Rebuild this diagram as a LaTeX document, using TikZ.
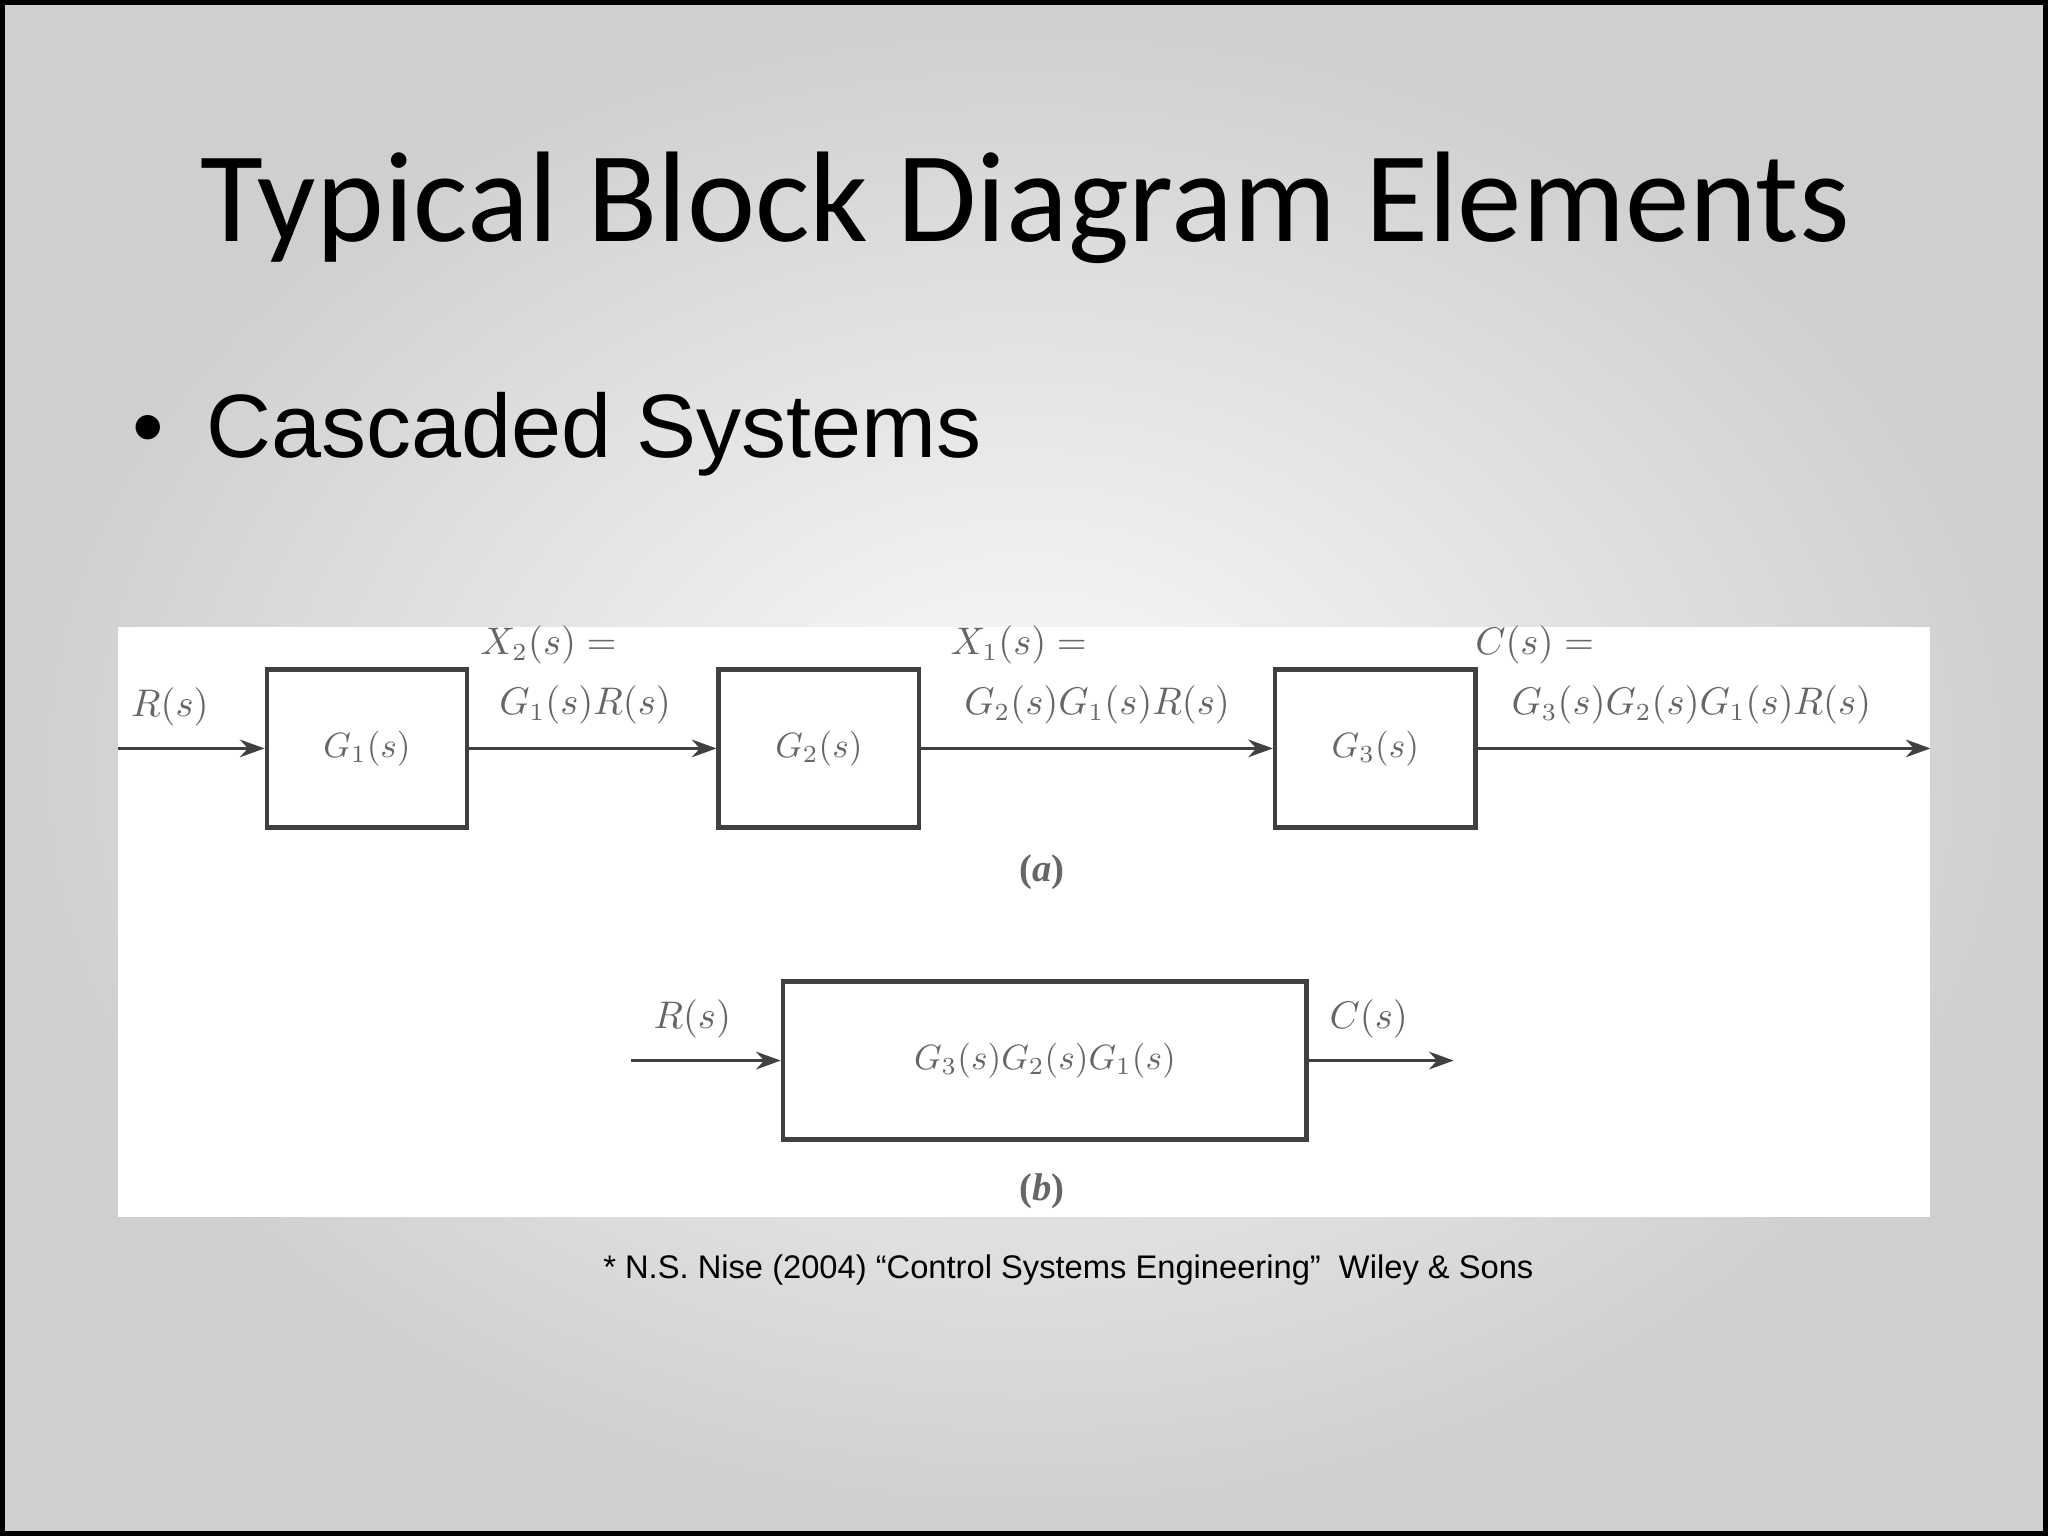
\documentclass[tikz,border=0pt]{standalone}
\usepackage{fontspec}
\setmainfont{Liberation Serif}
\newfontfamily\titlefont{Carlito}
\newfontfamily\sansfont{Liberation Sans}
\usetikzlibrary{arrows.meta}
\begin{document}
\begin{tikzpicture}[x=0.01306cm,y=-0.01306cm,
  blk/.style={draw=black!75,line width=1.3pt,minimum width=#1,minimum height=45pt,inner sep=0pt,text=black!60},
  sig/.style={draw=black!75,line width=1pt,-{Stealth[length=7pt,width=5pt]}},
  lab/.style={text=black!60,font=\fontsize{10.5}{12}\selectfont,inner sep=1pt}]
\useasboundingbox (0,0) rectangle (1568,1176);
\shade[inner color=gray!3,outer color=gray!38] (0,0) rectangle (1568,1176);
\draw[line width=2pt] (1,1) rectangle (1567,1175);
\node[font=\titlefont\fontsize{36.7}{42}\selectfont,anchor=base] (title) at (785,185) {Typical Block Diagram Elements};
\node[font=\sansfont\fontsize{25.6}{30}\selectfont,anchor=base west] (bullet) at (92,350) {\textbullet\hspace{12pt}Cascaded Systems};
\fill[white] (90,480) rectangle (1478,932);
% (a)
\node[blk=57pt] (g1) at (281,573) {$G_1(s)$};
\node[blk=57pt] (g2) at (627,573) {$G_2(s)$};
\node[blk=57pt] (g3) at (1053,573) {$G_3(s)$};
\coordinate (in) at (90,573);
\coordinate (out) at (1478,573);
\draw[sig] (in) -- (g1);
\draw[sig] (g1) -- (g2);
\draw[sig] (g2) -- (g3);
\draw[sig] (g3) -- (out);
\node[lab] (r1) at (130,541) {$R(s)$};
\node[lab] (x2a) at (420,494) {$X_2(s) =$};
\node[lab] (x2b) at (448,540) {$G_1(s)R(s)$};
\node[lab] (x1a) at (780,494) {$X_1(s) =$};
\node[lab] (x1b) at (840,540) {$G_2(s)G_1(s)R(s)$};
\node[lab] (ca) at (1175,494) {$C(s) =$};
\node[lab] (cb) at (1295,540) {$G_3(s)G_2(s)G_1(s)R(s)$};
\node[lab,font=\bfseries\fontsize{11}{13}\selectfont] (a) at (798,668) {(\textit{a})};
% (b)
\node[blk=149pt] (g) at (800,812) {$G_3(s)G_2(s)G_1(s)$};
\coordinate (inb) at (483,812);
\coordinate (outb) at (1113,812);
\draw[sig] (inb) -- (g);
\draw[sig] (g) -- (outb);
\node[lab] (rb) at (530,780) {$R(s)$};
\node[lab] (cb2) at (1048,780) {$C(s)$};
\node[lab,font=\bfseries\fontsize{11}{13}\selectfont] (b) at (798,912) {(\textit{b})};
\node[font=\sansfont\fontsize{9.3}{11}\selectfont] (ref) at (818,972) {* N.S. Nise (2004) “Control Systems Engineering”\ \ Wiley \& Sons};
\end{tikzpicture}
\end{document}
